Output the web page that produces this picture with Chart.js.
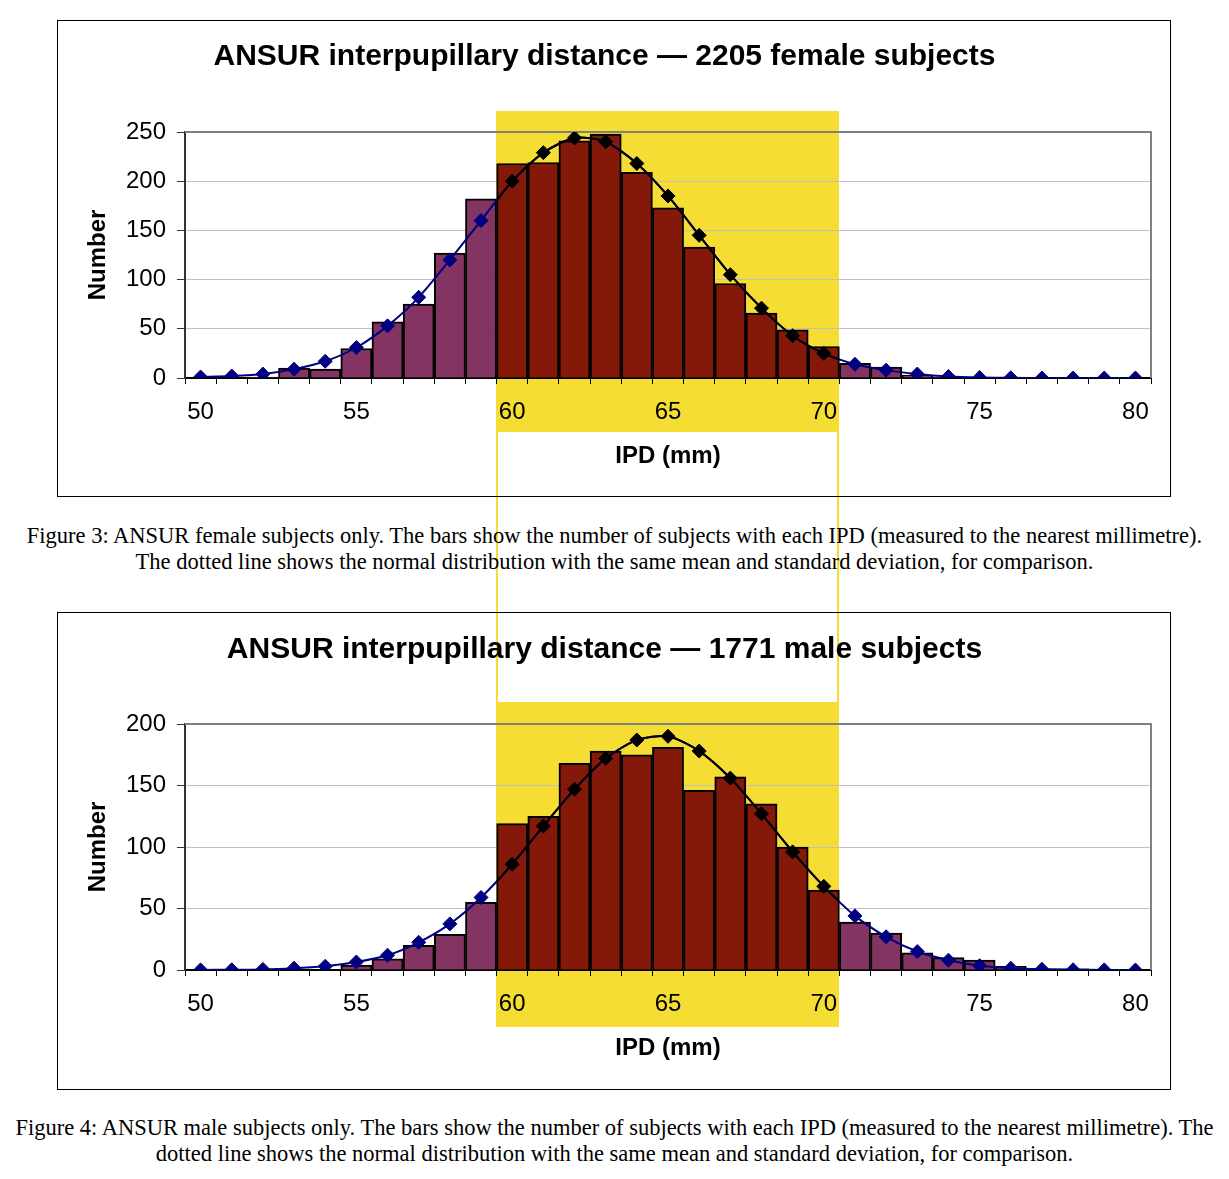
<!DOCTYPE html>
<html>
<head>
<meta charset="utf-8">
<script src="https://cdn.jsdelivr.net/npm/chart.js@4.4.1/dist/chart.umd.min.js"></script>
<style>
  body { margin: 0; background: #fff; width: 1229px; height: 1179px; position: relative; overflow: hidden; }
  .hl { position: absolute; background: #f5dd34; z-index: 0; }
  .hl-outline { position: absolute; border: 2px solid #f5dd34; box-sizing: border-box; z-index: 0; }
  .box { position: absolute; left: 57px; width: 1114px; border: 1px solid #000; box-sizing: border-box; z-index: 1; }
  .box canvas { position: absolute; left: 0; top: 0; }
  .caption { position: absolute; left: 0; width: 1229px; text-align: center; z-index: 2;
    font-family: "Liberation Serif", "Times New Roman", serif; font-size: 22.5px; line-height: 26px; color: #000; white-space: nowrap; }
</style>
</head>
<body>
<div class="hl" style="left:496px; top:111px; width:343px; height:321px;"></div>
<div class="hl-outline" style="left:496px; top:111px; width:343px; height:916px;"></div>
<div class="hl" style="left:496px; top:702px; width:343px; height:325px;"></div>

<div class="box" style="top:20px; height:477px;"><div style="position:relative; width:1112px; height:475px;"><canvas id="female"></canvas></div></div>
<div class="caption" style="top:523px;">Figure 3: ANSUR female subjects only. The bars show the number of subjects with each IPD (measured to the nearest millimetre).<br>The dotted line shows the normal distribution with the same mean and standard deviation, for comparison.</div>

<div class="box" style="top:612px; height:478px;"><div style="position:relative; width:1112px; height:476px;"><canvas id="male"></canvas></div></div>
<div class="caption" style="top:1115px;">Figure 4: ANSUR male subjects only. The bars show the number of subjects with each IPD (measured to the nearest millimetre). The<br>dotted line shows the normal distribution with the same mean and standard deviation, for comparison.</div>

<script>
// IPD in mm, one bar per millimetre
const ipd = [50, 51, 52, 53, 54, 55, 56, 57, 58, 59, 60, 61, 62, 63, 64, 65, 66, 67, 68, 69, 70, 71, 72, 73, 74, 75, 76, 77, 78, 79, 80];

const femaleCounts = [0, 0, 1, 10, 9, 30, 57, 75, 127, 182, 218, 219, 241, 248, 209, 173, 133, 96, 66, 49, 32, 15, 11, 3, 1, 0, 0, 0, 0, 0, 0];
const femaleNormal = [1, 2, 4, 9, 17, 31, 53, 82, 120, 160, 200, 229, 244, 240, 218, 185, 145, 105, 71, 43, 25, 14, 8, 4, 1.5, 0.5, 0.2, 0, 0, 0, 0];

const maleCounts = [0, 0, 0, 0, 0, 4, 9, 20, 29, 55, 119, 125, 168, 178, 175, 181, 146, 157, 135, 100, 65, 39, 30, 14, 10, 8, 3, 1, 1, 0, 0];
const maleNormal = [0.1, 0.2, 0.5, 1.5, 3, 6.5, 12, 22.5, 37.5, 59, 86, 117, 147, 172, 187, 190, 178, 156, 127, 96, 68, 44, 27, 15, 8, 3.5, 1.5, 0.6, 0.2, 0.1, 0];

const femaleTitle = "ANSUR interpupillary distance \u2014 2205 female subjects";
const maleTitle = "ANSUR interpupillary distance \u2014 1771 male subjects";

// highlighted range (mm)
const hlFrom = 60;
const hlTo = 70;

const PURPLE = "#843462";
const RED = "#84190a";
const NAVY = "#000080";
const inHl = (v) => v >= hlFrom && v <= hlTo;

Chart.defaults.color = "#000";
Chart.defaults.font.family = "'Liberation Sans', Arial, sans-serif";

const highlightClip = {
  id: "highlightClip",
  beforeDatasetDraw(chart, args) {
    if (!chart.data.datasets[args.index].highlightOnly) return;
    const x = chart.scales.x;
    const i0 = ipd.indexOf(hlFrom), i1 = ipd.indexOf(hlTo);
    const left = (x.getPixelForValue(i0 - 1) + x.getPixelForValue(i0)) / 2;
    const right = (x.getPixelForValue(i1) + x.getPixelForValue(i1 + 1)) / 2;
    const ctx = chart.ctx;
    ctx.save();
    ctx.beginPath();
    ctx.rect(left, 0, right - left, chart.height);
    ctx.clip();
  },
  afterDatasetDraw(chart, args) {
    if (chart.data.datasets[args.index].highlightOnly) chart.ctx.restore();
  }
};

const plotFrame = {
  id: "plotFrame",
  beforeDatasetsDraw(chart) {
    const { ctx, chartArea: a } = chart;
    ctx.save();
    ctx.strokeStyle = "#808080";
    ctx.lineWidth = 2;
    ctx.beginPath();
    ctx.moveTo(a.left, a.top);
    ctx.lineTo(a.right, a.top);
    ctx.lineTo(a.right, a.bottom);
    ctx.stroke();
    ctx.restore();
  }
};

function makeChart(id, title, counts, normal, yMax, boxH, titleMid) {
  return new Chart(document.getElementById(id), {
    type: "bar",
    data: {
      labels: ipd,
      datasets: [
        {
          type: "line",
          data: normal,
          highlightOnly: true,
          order: 1,
          borderColor: "#000",
          borderWidth: 2,
          pointStyle: "rectRot",
          pointRadius: ipd.map(v => inHl(v) ? 7 : 0),
          pointBackgroundColor: "#000",
          pointBorderColor: "#000",
          pointBorderWidth: 1,
          tension: 0.25
        },
        {
          type: "line",
          data: normal,
          order: 2,
          borderColor: NAVY,
          borderWidth: 2,
          pointStyle: "rectRot",
          pointRadius: ipd.map(v => inHl(v) ? 0 : 7),
          pointBackgroundColor: NAVY,
          pointBorderColor: NAVY,
          pointBorderWidth: 1,
          tension: 0.25
        },
        {
          data: counts,
          order: 3,
          backgroundColor: ipd.map(v => inHl(v) ? RED : PURPLE),
          borderColor: "#000",
          borderWidth: 2,
          barPercentage: 1,
          categoryPercentage: 1
        }
      ]
    },
    options: {
      responsive: true,
      maintainAspectRatio: false,
      animation: false,
      layout: { padding: { left: 0, right: 19, top: 0, bottom: 0 } },
      plugins: {
        legend: { display: false },
        tooltip: { enabled: false },
        title: {
          display: true,
          text: title,
          font: { size: 30, weight: "bold" },
          padding: { top: titleMid - 17, bottom: 111 - (titleMid - 17) - 36 }
        }
      },
      scales: {
        x: {
          offset: true,
          grid: { offset: true, drawOnChartArea: false, tickLength: 6, tickColor: "#000", tickWidth: 1 },
          border: { color: "#000", width: 2 },
          ticks: {
            autoSkip: false,
            maxRotation: 0,
            padding: 14,
            font: { size: 24 },
            callback: (v, i) => ipd[i] % 5 === 0 ? ipd[i] : ""
          },
          title: {
            display: true,
            text: "IPD (mm)",
            font: { size: 24, weight: "bold" },
            padding: { top: 0, bottom: boxH - 435 - 14.4 }
          },
          afterFit: (s) => { s.height = boxH - 357; }
        },
        y: {
          min: 0,
          max: yMax,
          ticks: { stepSize: 50, padding: 11, font: { size: 24 } },
          grid: { color: "#c0c0c0", tickLength: 8, tickColor: "#333", lineWidth: 1 },
          border: { color: "#333", width: 2 },
          title: {
            display: true,
            text: "Number",
            font: { size: 24, weight: "bold" },
            padding: { top: 25.6, bottom: 0 }
          },
          afterFit: (s) => { s.width = 127; }
        }
      }
    },
    plugins: [highlightClip, plotFrame]
  });
}

makeChart("female", femaleTitle, femaleCounts, femaleNormal, 250, 475, 35);
makeChart("male", maleTitle, maleCounts, maleNormal, 200, 476, 36);
</script>
</body>
</html>
